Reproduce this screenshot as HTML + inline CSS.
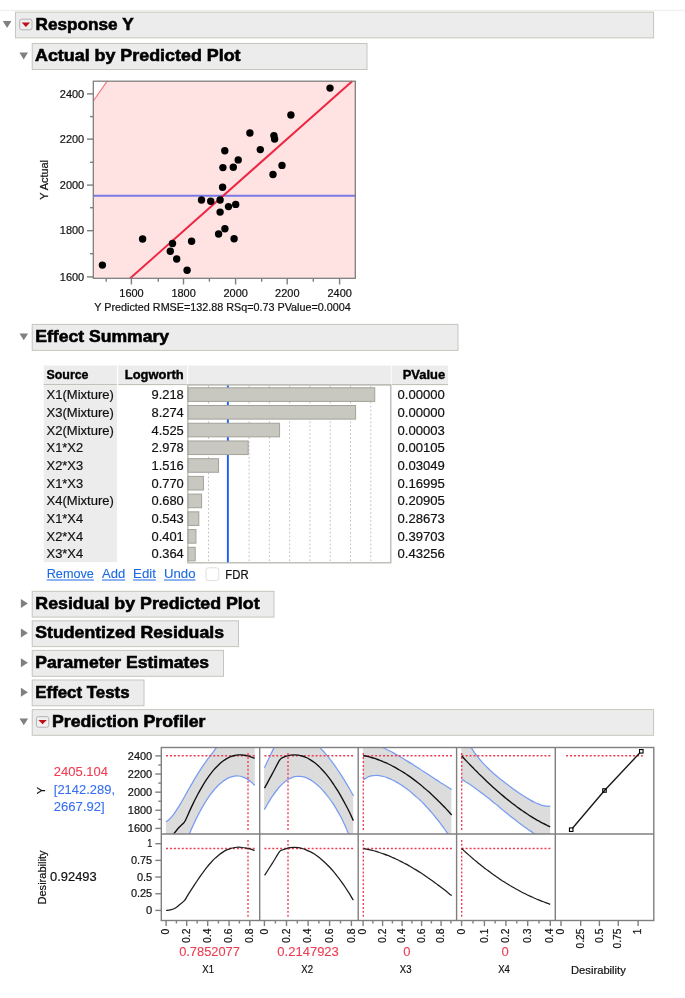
<!DOCTYPE html>
<html lang="en"><head><meta charset="utf-8"><title>Response Y</title>
<style>html,body{margin:0;padding:0;background:#fff}body{width:685px;height:998px;overflow:hidden}svg{display:block;font-family:'Liberation Sans', sans-serif}</style>
</head><body>
<svg width="685" height="998" viewBox="0 0 685 998">
<rect width="685" height="998" fill="#fff"/>
<line x1="0" y1="10.4" x2="685" y2="10.4" stroke="#f0f0f0" stroke-width="1.2"/>
<rect x="15.5" y="12.1" width="638.1" height="25.8" fill="#ececec" stroke="#c6c6be" stroke-width="1"/>
<text x="35.6" y="29.7" font-size="17" font-weight="bold" fill="#000" stroke="#000" stroke-width="0.6" textLength="98" lengthAdjust="spacingAndGlyphs">Response Y</text>
<path d="M2.8 21.1h8.6l-4.3 6.8z" fill="#808080"/>
<rect x="19.7" y="19.2" width="12.3" height="10.6" rx="2" fill="#efefef" stroke="#b2b2b2" stroke-width="1"/>
<path d="M21.70 22.50h8.4l-4.2 4.4z" fill="#bc1019"/>
<rect x="32.2" y="43.5" width="334.8" height="26.0" fill="#ececec" stroke="#c6c6be" stroke-width="1"/>
<text x="35" y="61.1" font-size="17" font-weight="bold" fill="#000" stroke="#000" stroke-width="0.6" textLength="205.5" lengthAdjust="spacingAndGlyphs">Actual by Predicted Plot</text>
<path d="M19.4 52.6h8.6l-4.3 6.8z" fill="#808080"/>
<rect x="32.2" y="324.4" width="425.8" height="26.0" fill="#ececec" stroke="#c6c6be" stroke-width="1"/>
<text x="35.3" y="342.0" font-size="17" font-weight="bold" fill="#000" stroke="#000" stroke-width="0.6" textLength="133.7" lengthAdjust="spacingAndGlyphs">Effect Summary</text>
<path d="M19.5 333.5h8.6l-4.3 6.8z" fill="#808080"/>
<rect x="32.2" y="591.3" width="241.8" height="25.8" fill="#ececec" stroke="#c6c6be" stroke-width="1"/>
<text x="35.3" y="608.9" font-size="17" font-weight="bold" fill="#000" stroke="#000" stroke-width="0.6" textLength="224.3" lengthAdjust="spacingAndGlyphs">Residual by Predicted Plot</text>
<path d="M20.9 599.1v9l7-4.5z" fill="#808080"/>
<rect x="32.2" y="620.8" width="206.3" height="25.8" fill="#ececec" stroke="#c6c6be" stroke-width="1"/>
<text x="35.3" y="638.4" font-size="17" font-weight="bold" fill="#000" stroke="#000" stroke-width="0.6" textLength="188.7" lengthAdjust="spacingAndGlyphs">Studentized Residuals</text>
<path d="M20.9 628.6v9l7-4.5z" fill="#808080"/>
<rect x="32.2" y="650.4" width="191.3" height="25.9" fill="#ececec" stroke="#c6c6be" stroke-width="1"/>
<text x="35.3" y="668.0" font-size="17" font-weight="bold" fill="#000" stroke="#000" stroke-width="0.6" textLength="173.7" lengthAdjust="spacingAndGlyphs">Parameter Estimates</text>
<path d="M20.9 658.25v9l7-4.5z" fill="#808080"/>
<rect x="32.2" y="680" width="111.8" height="25.8" fill="#ececec" stroke="#c6c6be" stroke-width="1"/>
<text x="35.3" y="697.6" font-size="17" font-weight="bold" fill="#000" stroke="#000" stroke-width="0.6" textLength="94.2" lengthAdjust="spacingAndGlyphs">Effect Tests</text>
<path d="M20.9 687.8v9l7-4.5z" fill="#808080"/>
<rect x="32.2" y="709.6" width="621.4" height="25.7" fill="#ececec" stroke="#c6c6be" stroke-width="1"/>
<text x="52" y="727.2" font-size="17" font-weight="bold" fill="#000" stroke="#000" stroke-width="0.6" textLength="153.5" lengthAdjust="spacingAndGlyphs">Prediction Profiler</text>
<path d="M19.5 718.55h8.6l-4.3 6.8z" fill="#808080"/>
<rect x="36.4" y="716.65" width="12.3" height="10.6" rx="2" fill="#efefef" stroke="#b2b2b2" stroke-width="1"/>
<path d="M38.40 719.95h8.4l-4.2 4.4z" fill="#bc1019"/>
<g>
<rect x="93.3" y="81.2" width="262.0" height="197.1" fill="#fff"/>
<path d="M93.3 101 L107.2 81.2 H355.3 V278.3 H93.3 Z" fill="#ffe2e2"/>
<path d="M93.3 101 L107.2 81.2" stroke="#f07a86" stroke-width="1.2" fill="none"/>
<line x1="93.3" y1="195.8" x2="355.3" y2="195.8" stroke="#7878e6" stroke-width="2"/>
<line x1="130.2" y1="278.3" x2="352.2" y2="81.2" stroke="#ee2440" stroke-width="1.9"/>
<circle cx="102.4" cy="265.1" r="3.7" fill="#000"/>
<circle cx="142.6" cy="239.0" r="3.7" fill="#000"/>
<circle cx="172.5" cy="243.5" r="3.7" fill="#000"/>
<circle cx="170.3" cy="251.2" r="3.7" fill="#000"/>
<circle cx="176.7" cy="259.0" r="3.7" fill="#000"/>
<circle cx="187.1" cy="270.2" r="3.7" fill="#000"/>
<circle cx="191.6" cy="241.2" r="3.7" fill="#000"/>
<circle cx="222.6" cy="187.3" r="3.7" fill="#000"/>
<circle cx="201.5" cy="200" r="3.7" fill="#000"/>
<circle cx="210.7" cy="201.3" r="3.7" fill="#000"/>
<circle cx="220.1" cy="200" r="3.7" fill="#000"/>
<circle cx="228.5" cy="206.6" r="3.7" fill="#000"/>
<circle cx="235.7" cy="204.4" r="3.7" fill="#000"/>
<circle cx="220.1" cy="212.1" r="3.7" fill="#000"/>
<circle cx="224.9" cy="228.8" r="3.7" fill="#000"/>
<circle cx="218.6" cy="234" r="3.7" fill="#000"/>
<circle cx="234.1" cy="238.7" r="3.7" fill="#000"/>
<circle cx="290.9" cy="115" r="3.7" fill="#000"/>
<circle cx="249.9" cy="133" r="3.7" fill="#000"/>
<circle cx="273.9" cy="135.6" r="3.7" fill="#000"/>
<circle cx="274.6" cy="139" r="3.7" fill="#000"/>
<circle cx="260.3" cy="149.6" r="3.7" fill="#000"/>
<circle cx="224.8" cy="150.8" r="3.7" fill="#000"/>
<circle cx="238.2" cy="159.9" r="3.7" fill="#000"/>
<circle cx="222.9" cy="167.6" r="3.7" fill="#000"/>
<circle cx="233.3" cy="167.2" r="3.7" fill="#000"/>
<circle cx="282" cy="165.4" r="3.7" fill="#000"/>
<circle cx="273" cy="174.5" r="3.7" fill="#000"/>
<circle cx="330" cy="88.1" r="3.7" fill="#000"/>
<rect x="93.3" y="81.2" width="262.0" height="197.1" fill="none" stroke="#7a7a7a" stroke-width="1.25"/>
<line x1="87.0" y1="276.9" x2="93.3" y2="276.9" stroke="#7f7f7f" stroke-width="1.4"/>
<text x="84.2" y="280.5" font-size="11" fill="#111" stroke="#111" stroke-width="0.2" text-anchor="end" textLength="24.4" lengthAdjust="spacingAndGlyphs">1600</text>
<line x1="90.0" y1="253.7" x2="93.3" y2="253.7" stroke="#7f7f7f" stroke-width="1.4"/>
<line x1="87.0" y1="230.7" x2="93.3" y2="230.7" stroke="#7f7f7f" stroke-width="1.4"/>
<text x="84.2" y="234.3" font-size="11" fill="#111" stroke="#111" stroke-width="0.2" text-anchor="end" textLength="24.4" lengthAdjust="spacingAndGlyphs">1800</text>
<line x1="90.0" y1="207.7" x2="93.3" y2="207.7" stroke="#7f7f7f" stroke-width="1.4"/>
<line x1="87.0" y1="185.1" x2="93.3" y2="185.1" stroke="#7f7f7f" stroke-width="1.4"/>
<text x="84.2" y="188.7" font-size="11" fill="#111" stroke="#111" stroke-width="0.2" text-anchor="end" textLength="24.4" lengthAdjust="spacingAndGlyphs">2000</text>
<line x1="90.0" y1="162.3" x2="93.3" y2="162.3" stroke="#7f7f7f" stroke-width="1.4"/>
<line x1="87.0" y1="139.1" x2="93.3" y2="139.1" stroke="#7f7f7f" stroke-width="1.4"/>
<text x="84.2" y="142.7" font-size="11" fill="#111" stroke="#111" stroke-width="0.2" text-anchor="end" textLength="24.4" lengthAdjust="spacingAndGlyphs">2200</text>
<line x1="90.0" y1="116.6" x2="93.3" y2="116.6" stroke="#7f7f7f" stroke-width="1.4"/>
<line x1="87.0" y1="93.9" x2="93.3" y2="93.9" stroke="#7f7f7f" stroke-width="1.4"/>
<text x="84.2" y="97.5" font-size="11" fill="#111" stroke="#111" stroke-width="0.2" text-anchor="end" textLength="24.4" lengthAdjust="spacingAndGlyphs">2400</text>
<line x1="106.2" y1="278.3" x2="106.2" y2="281.7" stroke="#7f7f7f" stroke-width="1.4"/>
<line x1="131.4" y1="278.3" x2="131.4" y2="284.5" stroke="#7f7f7f" stroke-width="1.4"/>
<text x="131.5" y="296.6" font-size="11" fill="#111" stroke="#111" stroke-width="0.2" text-anchor="middle" textLength="24.4" lengthAdjust="spacingAndGlyphs">1600</text>
<line x1="158.3" y1="278.3" x2="158.3" y2="281.7" stroke="#7f7f7f" stroke-width="1.4"/>
<line x1="183.5" y1="278.3" x2="183.5" y2="284.5" stroke="#7f7f7f" stroke-width="1.4"/>
<text x="183.6" y="296.6" font-size="11" fill="#111" stroke="#111" stroke-width="0.2" text-anchor="middle" textLength="24.4" lengthAdjust="spacingAndGlyphs">1800</text>
<line x1="209.4" y1="278.3" x2="209.4" y2="281.7" stroke="#7f7f7f" stroke-width="1.4"/>
<line x1="235.6" y1="278.3" x2="235.6" y2="284.5" stroke="#7f7f7f" stroke-width="1.4"/>
<text x="235.7" y="296.6" font-size="11" fill="#111" stroke="#111" stroke-width="0.2" text-anchor="middle" textLength="24.4" lengthAdjust="spacingAndGlyphs">2000</text>
<line x1="261.7" y1="278.3" x2="261.7" y2="281.7" stroke="#7f7f7f" stroke-width="1.4"/>
<line x1="287.2" y1="278.3" x2="287.2" y2="284.5" stroke="#7f7f7f" stroke-width="1.4"/>
<text x="287.3" y="296.6" font-size="11" fill="#111" stroke="#111" stroke-width="0.2" text-anchor="middle" textLength="24.4" lengthAdjust="spacingAndGlyphs">2200</text>
<line x1="313.3" y1="278.3" x2="313.3" y2="281.7" stroke="#7f7f7f" stroke-width="1.4"/>
<line x1="339.6" y1="278.3" x2="339.6" y2="284.5" stroke="#7f7f7f" stroke-width="1.4"/>
<text x="339.7" y="296.6" font-size="11" fill="#111" stroke="#111" stroke-width="0.2" text-anchor="middle" textLength="24.4" lengthAdjust="spacingAndGlyphs">2400</text>
<text x="48.1" y="179.8" font-size="11" fill="#111" stroke="#111" stroke-width="0.2" text-anchor="middle" textLength="39.7" lengthAdjust="spacingAndGlyphs" transform="rotate(-90 48.1 179.8)">Y Actual</text>
<text x="94.3" y="311.2" font-size="11" fill="#111" stroke="#111" stroke-width="0.2" textLength="256.5" lengthAdjust="spacingAndGlyphs">Y Predicted RMSE=132.88 RSq=0.73 PValue=0.0004</text>
</g>
<g>
<rect x="43.7" y="365.5" width="73.2" height="18.6" fill="#ececec"/>
<rect x="43.7" y="384" width="73.2" height="1.1" fill="#c2c2ba"/>
<rect x="118.2" y="365.5" width="69.0" height="18.6" fill="#ececec"/>
<rect x="118.2" y="384" width="69.0" height="1.1" fill="#c2c2ba"/>
<rect x="188.3" y="365.5" width="202.5" height="18.6" fill="#ececec"/>
<rect x="188.3" y="384" width="202.5" height="1.1" fill="#c2c2ba"/>
<rect x="391.7" y="365.5" width="56.3" height="18.6" fill="#ececec"/>
<rect x="391.7" y="384" width="56.3" height="1.1" fill="#c2c2ba"/>
<rect x="43.7" y="385.1" width="73.2" height="177" fill="#ececec"/>
<text x="46.5" y="379" font-size="13" font-weight="bold" fill="#000" stroke="#000" stroke-width="0.4" textLength="42" lengthAdjust="spacingAndGlyphs">Source</text>
<text x="124.8" y="379" font-size="13" font-weight="bold" fill="#000" stroke="#000" stroke-width="0.4" textLength="59" lengthAdjust="spacingAndGlyphs">Logworth</text>
<text x="402.7" y="379" font-size="13" font-weight="bold" fill="#000" stroke="#000" stroke-width="0.4" textLength="42.4" lengthAdjust="spacingAndGlyphs">PValue</text>
<rect x="187.8" y="385" width="203.0" height="177.8" fill="#fff" stroke="#bcbcb4" stroke-width="1.4"/>
<line x1="208.53" y1="386" x2="208.53" y2="562" stroke="#c0c0c0" stroke-width="1" stroke-dasharray="1.7 2.24"/>
<line x1="249.09" y1="386" x2="249.09" y2="562" stroke="#c0c0c0" stroke-width="1" stroke-dasharray="1.7 2.24"/>
<line x1="269.37" y1="386" x2="269.37" y2="562" stroke="#c0c0c0" stroke-width="1" stroke-dasharray="1.7 2.24"/>
<line x1="289.65" y1="386" x2="289.65" y2="562" stroke="#c0c0c0" stroke-width="1" stroke-dasharray="1.7 2.24"/>
<line x1="309.93" y1="386" x2="309.93" y2="562" stroke="#c0c0c0" stroke-width="1" stroke-dasharray="1.7 2.24"/>
<line x1="330.21" y1="386" x2="330.21" y2="562" stroke="#c0c0c0" stroke-width="1" stroke-dasharray="1.7 2.24"/>
<line x1="350.49" y1="386" x2="350.49" y2="562" stroke="#c0c0c0" stroke-width="1" stroke-dasharray="1.7 2.24"/>
<line x1="370.77" y1="386" x2="370.77" y2="562" stroke="#c0c0c0" stroke-width="1" stroke-dasharray="1.7 2.24"/>
<line x1="227.86" y1="385.5" x2="227.86" y2="562.3" stroke="#1a5cf4" stroke-width="1.9"/>
<text x="46.6" y="399.1" font-size="13" fill="#111" stroke="#111" stroke-width="0.2" textLength="67.3" lengthAdjust="spacingAndGlyphs">X1(Mixture)</text>
<text x="183.8" y="399.1" font-size="13" fill="#111" stroke="#111" stroke-width="0.2" text-anchor="end" textLength="32.3" lengthAdjust="spacingAndGlyphs">9.218</text>
<text x="444.8" y="399.1" font-size="13" fill="#111" stroke="#111" stroke-width="0.2" text-anchor="end" textLength="47.3" lengthAdjust="spacingAndGlyphs">0.00000</text>
<rect x="188.1" y="387.8" width="186.64" height="13.6" fill="#c8c8c0" stroke="#a2a29a" stroke-width="1"/>
<text x="46.6" y="416.8" font-size="13" fill="#111" stroke="#111" stroke-width="0.2" textLength="67.3" lengthAdjust="spacingAndGlyphs">X3(Mixture)</text>
<text x="183.8" y="416.8" font-size="13" fill="#111" stroke="#111" stroke-width="0.2" text-anchor="end" textLength="32.3" lengthAdjust="spacingAndGlyphs">8.274</text>
<text x="444.8" y="416.8" font-size="13" fill="#111" stroke="#111" stroke-width="0.2" text-anchor="end" textLength="47.3" lengthAdjust="spacingAndGlyphs">0.00000</text>
<rect x="188.1" y="405.52" width="167.50" height="13.6" fill="#c8c8c0" stroke="#a2a29a" stroke-width="1"/>
<text x="46.6" y="434.5" font-size="13" fill="#111" stroke="#111" stroke-width="0.2" textLength="67.3" lengthAdjust="spacingAndGlyphs">X2(Mixture)</text>
<text x="183.8" y="434.5" font-size="13" fill="#111" stroke="#111" stroke-width="0.2" text-anchor="end" textLength="32.3" lengthAdjust="spacingAndGlyphs">4.525</text>
<text x="444.8" y="434.5" font-size="13" fill="#111" stroke="#111" stroke-width="0.2" text-anchor="end" textLength="47.3" lengthAdjust="spacingAndGlyphs">0.00003</text>
<rect x="188.1" y="423.24" width="91.47" height="13.6" fill="#c8c8c0" stroke="#a2a29a" stroke-width="1"/>
<text x="46.6" y="452.2" font-size="13" fill="#111" stroke="#111" stroke-width="0.2" textLength="36.5" lengthAdjust="spacingAndGlyphs">X1*X2</text>
<text x="183.8" y="452.2" font-size="13" fill="#111" stroke="#111" stroke-width="0.2" text-anchor="end" textLength="32.3" lengthAdjust="spacingAndGlyphs">2.978</text>
<text x="444.8" y="452.2" font-size="13" fill="#111" stroke="#111" stroke-width="0.2" text-anchor="end" textLength="47.3" lengthAdjust="spacingAndGlyphs">0.00105</text>
<rect x="188.1" y="440.96" width="60.09" height="13.6" fill="#c8c8c0" stroke="#a2a29a" stroke-width="1"/>
<text x="46.6" y="469.9" font-size="13" fill="#111" stroke="#111" stroke-width="0.2" textLength="36.5" lengthAdjust="spacingAndGlyphs">X2*X3</text>
<text x="183.8" y="469.9" font-size="13" fill="#111" stroke="#111" stroke-width="0.2" text-anchor="end" textLength="32.3" lengthAdjust="spacingAndGlyphs">1.516</text>
<text x="444.8" y="469.9" font-size="13" fill="#111" stroke="#111" stroke-width="0.2" text-anchor="end" textLength="47.3" lengthAdjust="spacingAndGlyphs">0.03049</text>
<rect x="188.1" y="458.68" width="30.44" height="13.6" fill="#c8c8c0" stroke="#a2a29a" stroke-width="1"/>
<text x="46.6" y="487.6" font-size="13" fill="#111" stroke="#111" stroke-width="0.2" textLength="36.5" lengthAdjust="spacingAndGlyphs">X1*X3</text>
<text x="183.8" y="487.6" font-size="13" fill="#111" stroke="#111" stroke-width="0.2" text-anchor="end" textLength="32.3" lengthAdjust="spacingAndGlyphs">0.770</text>
<text x="444.8" y="487.6" font-size="13" fill="#111" stroke="#111" stroke-width="0.2" text-anchor="end" textLength="47.3" lengthAdjust="spacingAndGlyphs">0.16995</text>
<rect x="188.1" y="476.4" width="15.32" height="13.6" fill="#c8c8c0" stroke="#a2a29a" stroke-width="1"/>
<text x="46.6" y="505.3" font-size="13" fill="#111" stroke="#111" stroke-width="0.2" textLength="67.3" lengthAdjust="spacingAndGlyphs">X4(Mixture)</text>
<text x="183.8" y="505.3" font-size="13" fill="#111" stroke="#111" stroke-width="0.2" text-anchor="end" textLength="32.3" lengthAdjust="spacingAndGlyphs">0.680</text>
<text x="444.8" y="505.3" font-size="13" fill="#111" stroke="#111" stroke-width="0.2" text-anchor="end" textLength="47.3" lengthAdjust="spacingAndGlyphs">0.20905</text>
<rect x="188.1" y="494.12" width="13.49" height="13.6" fill="#c8c8c0" stroke="#a2a29a" stroke-width="1"/>
<text x="46.6" y="523.0" font-size="13" fill="#111" stroke="#111" stroke-width="0.2" textLength="36.5" lengthAdjust="spacingAndGlyphs">X1*X4</text>
<text x="183.8" y="523.0" font-size="13" fill="#111" stroke="#111" stroke-width="0.2" text-anchor="end" textLength="32.3" lengthAdjust="spacingAndGlyphs">0.543</text>
<text x="444.8" y="523.0" font-size="13" fill="#111" stroke="#111" stroke-width="0.2" text-anchor="end" textLength="47.3" lengthAdjust="spacingAndGlyphs">0.28673</text>
<rect x="188.1" y="511.84" width="10.71" height="13.6" fill="#c8c8c0" stroke="#a2a29a" stroke-width="1"/>
<text x="46.6" y="540.7" font-size="13" fill="#111" stroke="#111" stroke-width="0.2" textLength="36.5" lengthAdjust="spacingAndGlyphs">X2*X4</text>
<text x="183.8" y="540.7" font-size="13" fill="#111" stroke="#111" stroke-width="0.2" text-anchor="end" textLength="32.3" lengthAdjust="spacingAndGlyphs">0.401</text>
<text x="444.8" y="540.7" font-size="13" fill="#111" stroke="#111" stroke-width="0.2" text-anchor="end" textLength="47.3" lengthAdjust="spacingAndGlyphs">0.39703</text>
<rect x="188.1" y="529.56" width="7.83" height="13.6" fill="#c8c8c0" stroke="#a2a29a" stroke-width="1"/>
<text x="46.6" y="558.4" font-size="13" fill="#111" stroke="#111" stroke-width="0.2" textLength="36.5" lengthAdjust="spacingAndGlyphs">X3*X4</text>
<text x="183.8" y="558.4" font-size="13" fill="#111" stroke="#111" stroke-width="0.2" text-anchor="end" textLength="32.3" lengthAdjust="spacingAndGlyphs">0.364</text>
<text x="444.8" y="558.4" font-size="13" fill="#111" stroke="#111" stroke-width="0.2" text-anchor="end" textLength="47.3" lengthAdjust="spacingAndGlyphs">0.43256</text>
<rect x="188.1" y="547.28" width="7.08" height="13.6" fill="#c8c8c0" stroke="#a2a29a" stroke-width="1"/>
<text x="46.7" y="577.6" font-size="13" fill="#1c6ae4" stroke="#1c6ae4" stroke-width="0.1" textLength="47.2" lengthAdjust="spacingAndGlyphs">Remove</text>
<line x1="46.7" y1="580" x2="93.9" y2="580" stroke="#1c6ae4" stroke-width="1"/>
<text x="102" y="577.6" font-size="13" fill="#1c6ae4" stroke="#1c6ae4" stroke-width="0.1" textLength="23.2" lengthAdjust="spacingAndGlyphs">Add</text>
<line x1="102" y1="580" x2="125.2" y2="580" stroke="#1c6ae4" stroke-width="1"/>
<text x="133.1" y="577.6" font-size="13" fill="#1c6ae4" stroke="#1c6ae4" stroke-width="0.1" textLength="22.8" lengthAdjust="spacingAndGlyphs">Edit</text>
<line x1="133.1" y1="580" x2="155.9" y2="580" stroke="#1c6ae4" stroke-width="1"/>
<text x="164" y="577.6" font-size="13" fill="#1c6ae4" stroke="#1c6ae4" stroke-width="0.1" textLength="31.5" lengthAdjust="spacingAndGlyphs">Undo</text>
<line x1="164" y1="580" x2="195.5" y2="580" stroke="#1c6ae4" stroke-width="1"/>
<rect x="206" y="567.8" width="12.8" height="12.8" rx="2.5" fill="#fff" stroke="#dedede" stroke-width="1"/>
<text x="225.3" y="579.2" font-size="12.5" fill="#111" stroke="#111" stroke-width="0.2" textLength="23.3" lengthAdjust="spacingAndGlyphs">FDR</text>
</g>
<g>
<clipPath id="c1"><rect x="161.3" y="747.5" width="492.5" height="86.5"/></clipPath>
<g clip-path="url(#c1)">
<clipPath id="b1"><rect x="165.9" y="747.5" width="88.9" height="86.5"/></clipPath>
<path clip-path="url(#b1)" d="M164.0 821.8 C164.3 821.8 165.0 822.3 166.0 821.8 C167.0 821.3 168.6 820.1 169.9 818.8 C171.2 817.5 172.5 815.8 173.8 814.1 C175.2 812.3 176.5 810.3 177.8 808.2 C179.1 806.2 180.4 803.9 181.7 801.7 C183.0 799.4 184.3 797.1 185.6 794.7 C186.9 792.4 188.2 790.1 189.5 787.8 C190.8 785.5 192.2 783.2 193.5 780.9 C194.8 778.7 196.1 776.5 197.4 774.4 C198.7 772.3 200.0 770.3 201.3 768.3 C202.6 766.3 203.9 764.4 205.2 762.6 C206.5 760.7 207.8 759.0 209.2 757.2 C210.5 755.5 211.8 753.8 213.1 752.1 C214.4 750.4 214.8 749.5 217.0 747.0 C219.2 744.5 222.2 739.8 226.0 737.0 C229.8 734.2 235.2 731.2 240.0 730.0 C244.8 728.8 251.9 730.0 254.7 730.0 C257.5 730.0 256.4 730.0 256.7 730.0 L256.7 785.4 C256.4 785.4 255.7 786.1 254.7 785.4 C253.7 784.8 252.0 782.6 250.6 781.5 C249.3 780.3 247.9 779.4 246.6 778.6 C245.2 777.8 243.8 777.2 242.5 776.8 C241.1 776.3 239.8 776.1 238.4 776.0 C237.1 775.9 235.7 775.9 234.4 776.1 C233.0 776.3 231.6 776.7 230.3 777.2 C228.9 777.7 227.6 778.3 226.2 779.1 C224.9 779.9 223.5 780.8 222.2 781.9 C220.8 783.0 219.4 784.2 218.1 785.5 C216.7 786.9 215.4 788.4 214.0 790.0 C212.7 791.6 211.3 793.4 209.9 795.2 C208.6 797.1 207.2 799.1 205.9 801.3 C204.5 803.4 203.2 805.7 201.8 808.1 C200.5 810.5 199.1 813.1 197.7 815.7 C196.4 818.4 195.0 821.2 193.7 824.2 C192.3 827.1 192.2 827.1 189.6 833.5 C187.0 839.8 181.9 851.7 178.0 862.0 C174.1 872.3 168.3 889.5 166.0 895.0 C163.7 900.5 164.3 895.0 164.0 895.0Z" fill="#dcdcdc"/>
<path d="M166.0 821.8 C166.7 821.3 168.6 820.1 169.9 818.8 C171.2 817.5 172.5 815.8 173.8 814.1 C175.2 812.3 176.5 810.3 177.8 808.2 C179.1 806.2 180.4 803.9 181.7 801.7 C183.0 799.4 184.3 797.1 185.6 794.7 C186.9 792.4 188.2 790.1 189.5 787.8 C190.8 785.5 192.2 783.2 193.5 780.9 C194.8 778.7 196.1 776.5 197.4 774.4 C198.7 772.3 200.0 770.3 201.3 768.3 C202.6 766.3 203.9 764.4 205.2 762.6 C206.5 760.7 207.8 759.0 209.2 757.2 C210.5 755.5 211.8 753.8 213.1 752.1 C214.4 750.4 214.8 749.5 217.0 747.0 C219.2 744.5 222.2 739.8 226.0 737.0 C229.8 734.2 235.2 731.2 240.0 730.0 C244.8 728.8 252.2 730.0 254.7 730.0" fill="none" stroke="#789cf2" stroke-width="1.25"/>
<path d="M166.0 895.0 C168.0 889.5 174.1 872.3 178.0 862.0 C181.9 851.7 187.0 839.8 189.6 833.5 C192.2 827.1 192.3 827.1 193.7 824.2 C195.0 821.2 196.4 818.4 197.7 815.7 C199.1 813.1 200.5 810.5 201.8 808.1 C203.2 805.7 204.5 803.4 205.9 801.3 C207.2 799.1 208.6 797.1 209.9 795.2 C211.3 793.4 212.7 791.6 214.0 790.0 C215.4 788.4 216.7 786.9 218.1 785.5 C219.4 784.2 220.8 783.0 222.2 781.9 C223.5 780.8 224.9 779.9 226.2 779.1 C227.6 778.3 228.9 777.7 230.3 777.2 C231.6 776.7 233.0 776.3 234.4 776.1 C235.7 775.9 237.1 775.9 238.4 776.0 C239.8 776.1 241.1 776.3 242.5 776.8 C243.8 777.2 245.2 777.8 246.6 778.6 C247.9 779.4 249.3 780.3 250.6 781.5 C252.0 782.6 254.0 784.8 254.7 785.4" fill="none" stroke="#789cf2" stroke-width="1.25"/>
<clipPath id="b2"><rect x="264.1" y="747.5" width="89.1" height="86.5"/></clipPath>
<path clip-path="url(#b2)" d="M262.4 767.7 C262.7 767.7 263.2 769.4 264.4 767.7 C265.5 766.0 267.7 760.9 269.3 757.5 C270.9 754.1 272.1 751.5 274.2 747.4 C276.3 743.3 278.2 736.7 282.0 733.0 C285.8 729.3 292.2 725.0 297.0 725.0 C301.8 725.0 307.2 729.2 311.0 733.0 C314.8 736.8 317.8 744.3 320.0 747.5 C322.2 750.7 322.8 750.5 324.2 752.1 C325.6 753.7 327.0 755.4 328.4 757.1 C329.8 758.9 331.2 760.7 332.6 762.6 C334.0 764.5 335.4 766.4 336.8 768.5 C338.1 770.5 339.5 772.6 340.9 774.7 C342.3 776.9 343.7 779.1 345.1 781.4 C346.5 783.7 347.9 786.1 349.3 788.5 C350.7 791.0 352.5 794.8 353.5 796.0 C354.5 797.3 355.2 796.0 355.5 796.0 L355.5 843.0 C355.2 843.0 354.6 844.5 353.5 843.0 C352.4 841.5 350.3 837.3 348.8 834.3 C347.3 831.3 346.1 827.9 344.8 825.0 C343.4 822.1 342.1 819.4 340.8 816.8 C339.4 814.2 338.1 811.9 336.7 809.6 C335.4 807.3 334.1 805.2 332.7 803.2 C331.4 801.2 330.0 799.3 328.7 797.5 C327.4 795.7 326.0 794.1 324.7 792.5 C323.4 790.9 322.0 789.5 320.7 788.1 C319.3 786.8 318.0 785.5 316.6 784.4 C315.3 783.2 314.0 782.2 312.6 781.3 C311.3 780.3 310.0 779.5 308.6 778.9 C307.3 778.2 305.9 777.6 304.6 777.2 C303.2 776.8 301.9 776.5 300.6 776.4 C299.2 776.2 297.9 776.2 296.6 776.4 C295.2 776.5 293.9 776.8 292.5 777.3 C291.2 777.8 289.8 778.4 288.5 779.2 C287.2 779.9 285.8 780.9 284.5 782.0 C283.2 783.1 281.8 784.4 280.5 785.8 C279.1 787.2 277.8 788.8 276.5 790.5 C275.1 792.3 273.8 794.2 272.4 796.2 C271.1 798.2 269.8 800.3 268.4 802.6 C267.1 804.8 265.4 808.4 264.4 809.6 C263.4 810.8 262.7 809.6 262.4 809.6Z" fill="#dcdcdc"/>
<path d="M264.4 767.7 C265.2 766.0 267.7 760.9 269.3 757.5 C270.9 754.1 272.1 751.5 274.2 747.4 C276.3 743.3 278.2 736.7 282.0 733.0 C285.8 729.3 292.2 725.0 297.0 725.0 C301.8 725.0 307.2 729.2 311.0 733.0 C314.8 736.8 317.8 744.3 320.0 747.5 C322.2 750.7 322.8 750.5 324.2 752.1 C325.6 753.7 327.0 755.4 328.4 757.1 C329.8 758.9 331.2 760.7 332.6 762.6 C334.0 764.5 335.4 766.4 336.8 768.5 C338.1 770.5 339.5 772.6 340.9 774.7 C342.3 776.9 343.7 779.1 345.1 781.4 C346.5 783.7 347.9 786.1 349.3 788.5 C350.7 791.0 352.8 794.8 353.5 796.0" fill="none" stroke="#789cf2" stroke-width="1.25"/>
<path d="M264.4 809.6 C265.1 808.4 267.1 804.8 268.4 802.6 C269.8 800.3 271.1 798.2 272.4 796.2 C273.8 794.2 275.1 792.3 276.5 790.5 C277.8 788.8 279.1 787.2 280.5 785.8 C281.8 784.4 283.2 783.1 284.5 782.0 C285.8 780.9 287.2 779.9 288.5 779.2 C289.8 778.4 291.2 777.8 292.5 777.3 C293.9 776.8 295.2 776.5 296.6 776.4 C297.9 776.2 299.2 776.2 300.6 776.4 C301.9 776.5 303.2 776.8 304.6 777.2 C305.9 777.6 307.3 778.2 308.6 778.9 C310.0 779.5 311.3 780.3 312.6 781.3 C314.0 782.2 315.3 783.2 316.6 784.4 C318.0 785.5 319.3 786.8 320.7 788.1 C322.0 789.5 323.4 790.9 324.7 792.5 C326.0 794.1 327.4 795.7 328.7 797.5 C330.0 799.3 331.4 801.2 332.7 803.2 C334.1 805.2 335.4 807.3 336.7 809.6 C338.1 811.9 339.4 814.2 340.8 816.8 C342.1 819.4 343.4 822.1 344.8 825.0 C346.1 827.9 347.3 831.3 348.8 834.3 C350.3 837.3 352.7 841.5 353.5 843.0" fill="none" stroke="#789cf2" stroke-width="1.25"/>
<clipPath id="b3"><rect x="363.0" y="747.5" width="88.4" height="86.5"/></clipPath>
<path clip-path="url(#b3)" d="M361.3 736.0 C361.6 736.0 361.4 735.1 363.3 736.0 C365.2 736.9 369.7 739.5 373.0 741.5 C376.3 743.5 380.9 746.4 383.3 747.8 C385.7 749.2 386.0 749.1 387.3 749.7 C388.7 750.4 390.0 751.1 391.4 751.8 C392.7 752.5 394.0 753.3 395.4 754.0 C396.7 754.7 398.0 755.5 399.4 756.3 C400.7 757.1 402.1 757.9 403.4 758.7 C404.8 759.5 406.1 760.3 407.4 761.1 C408.8 762.0 410.1 762.8 411.5 763.6 C412.8 764.5 414.1 765.3 415.5 766.2 C416.8 767.1 418.2 767.9 419.5 768.8 C420.9 769.7 422.2 770.6 423.5 771.5 C424.9 772.3 426.2 773.2 427.6 774.1 C428.9 775.0 430.2 775.9 431.6 776.7 C432.9 777.6 434.3 778.5 435.6 779.4 C437.0 780.2 438.3 781.1 439.6 782.0 C441.0 782.8 442.3 783.7 443.6 784.5 C445.0 785.3 446.3 786.2 447.7 787.0 C449.0 787.8 450.7 789.0 451.7 789.4 C452.7 789.8 453.4 789.4 453.7 789.4 L453.7 839.0 C453.4 839.0 452.7 839.9 451.7 839.0 C450.7 838.1 449.1 835.6 447.8 833.8 C446.5 831.9 445.1 829.9 443.8 828.0 C442.4 826.2 441.1 824.4 439.8 822.6 C438.4 820.8 437.1 819.1 435.7 817.5 C434.4 815.8 433.1 814.2 431.7 812.6 C430.4 811.0 429.0 809.5 427.7 808.1 C426.4 806.6 425.0 805.2 423.7 803.8 C422.4 802.4 421.0 801.1 419.7 799.8 C418.3 798.6 417.0 797.3 415.6 796.2 C414.3 795.0 413.0 793.8 411.6 792.7 C410.3 791.6 409.0 790.6 407.6 789.6 C406.3 788.5 404.9 787.6 403.6 786.6 C402.2 785.7 400.9 784.8 399.6 784.0 C398.2 783.1 396.9 782.3 395.6 781.6 C394.2 780.9 392.9 780.2 391.5 779.5 C390.2 778.9 388.8 778.3 387.5 777.8 C386.2 777.3 384.8 776.8 383.5 776.5 C382.2 776.1 380.8 775.8 379.5 775.6 C378.1 775.4 376.8 775.3 375.5 775.4 C374.1 775.4 372.8 775.6 371.4 775.9 C370.1 776.2 368.8 776.6 367.4 777.2 C366.1 777.9 364.4 779.3 363.4 779.7 C362.4 780.1 361.7 779.7 361.4 779.7Z" fill="#dcdcdc"/>
<path d="M363.3 736.0 C364.9 736.9 369.7 739.5 373.0 741.5 C376.3 743.5 380.9 746.4 383.3 747.8 C385.7 749.2 386.0 749.1 387.3 749.7 C388.7 750.4 390.0 751.1 391.4 751.8 C392.7 752.5 394.0 753.3 395.4 754.0 C396.7 754.7 398.0 755.5 399.4 756.3 C400.7 757.1 402.1 757.9 403.4 758.7 C404.8 759.5 406.1 760.3 407.4 761.1 C408.8 762.0 410.1 762.8 411.5 763.6 C412.8 764.5 414.1 765.3 415.5 766.2 C416.8 767.1 418.2 767.9 419.5 768.8 C420.9 769.7 422.2 770.6 423.5 771.5 C424.9 772.3 426.2 773.2 427.6 774.1 C428.9 775.0 430.2 775.9 431.6 776.7 C432.9 777.6 434.3 778.5 435.6 779.4 C437.0 780.2 438.3 781.1 439.6 782.0 C441.0 782.8 442.3 783.7 443.6 784.5 C445.0 785.3 446.3 786.2 447.7 787.0 C449.0 787.8 451.0 789.0 451.7 789.4" fill="none" stroke="#789cf2" stroke-width="1.25"/>
<path d="M363.4 779.7 C364.1 779.3 366.1 777.9 367.4 777.2 C368.8 776.6 370.1 776.2 371.4 775.9 C372.8 775.6 374.1 775.4 375.5 775.4 C376.8 775.3 378.1 775.4 379.5 775.6 C380.8 775.8 382.2 776.1 383.5 776.5 C384.8 776.8 386.2 777.3 387.5 777.8 C388.8 778.3 390.2 778.9 391.5 779.5 C392.9 780.2 394.2 780.9 395.6 781.6 C396.9 782.3 398.2 783.1 399.6 784.0 C400.9 784.8 402.2 785.7 403.6 786.6 C404.9 787.6 406.3 788.5 407.6 789.6 C409.0 790.6 410.3 791.6 411.6 792.7 C413.0 793.8 414.3 795.0 415.6 796.2 C417.0 797.3 418.3 798.6 419.7 799.8 C421.0 801.1 422.4 802.4 423.7 803.8 C425.0 805.2 426.4 806.6 427.7 808.1 C429.0 809.5 430.4 811.0 431.7 812.6 C433.1 814.2 434.4 815.8 435.7 817.5 C437.1 819.1 438.4 820.8 439.8 822.6 C441.1 824.4 442.4 826.2 443.8 828.0 C445.1 829.9 446.5 831.9 447.8 833.8 C449.1 835.6 451.1 838.1 451.7 839.0" fill="none" stroke="#789cf2" stroke-width="1.25"/>
<clipPath id="b4"><rect x="461.3" y="747.5" width="88.9" height="86.5"/></clipPath>
<path clip-path="url(#b4)" d="M459.6 733.0 C459.9 733.0 459.7 730.5 461.6 733.0 C463.5 735.5 468.9 744.3 471.2 747.7 C473.5 751.1 473.8 751.7 475.1 753.5 C476.5 755.3 477.8 757.0 479.1 758.6 C480.4 760.2 481.7 761.7 483.1 763.1 C484.4 764.6 485.7 765.9 487.0 767.3 C488.3 768.6 489.6 769.8 490.9 771.0 C492.3 772.3 493.6 773.4 494.9 774.6 C496.2 775.7 497.5 776.8 498.9 777.9 C500.2 779.0 501.5 780.0 502.8 781.0 C504.1 782.1 505.4 783.1 506.8 784.1 C508.1 785.1 509.4 786.1 510.7 787.0 C512.0 788.0 513.3 789.0 514.6 789.9 C516.0 790.8 517.3 791.8 518.6 792.7 C519.9 793.6 521.2 794.5 522.5 795.3 C523.9 796.2 525.2 797.0 526.5 797.8 C527.8 798.6 529.1 799.4 530.5 800.1 C531.8 800.9 533.1 801.6 534.4 802.2 C535.7 802.8 537.0 803.4 538.4 803.9 C539.7 804.5 541.0 804.9 542.3 805.3 C543.6 805.6 544.9 805.9 546.2 806.1 C547.6 806.3 549.2 806.2 550.2 806.3 C551.2 806.3 551.9 806.3 552.2 806.3 L552.2 842.0 C551.9 842.0 551.9 842.6 550.2 842.0 C548.5 841.4 544.8 840.0 542.0 838.5 C539.2 837.0 535.5 834.3 533.4 833.0 C531.3 831.6 530.7 831.2 529.4 830.4 C528.1 829.5 526.8 828.6 525.4 827.6 C524.1 826.7 522.8 825.7 521.5 824.7 C520.1 823.7 518.8 822.7 517.5 821.7 C516.1 820.7 514.8 819.7 513.5 818.6 C512.2 817.6 510.8 816.5 509.5 815.4 C508.2 814.3 506.8 813.3 505.5 812.2 C504.2 811.1 502.9 810.0 501.5 808.9 C500.2 807.8 498.9 806.7 497.6 805.6 C496.2 804.5 494.9 803.4 493.6 802.4 C492.2 801.3 490.9 800.2 489.6 799.1 C488.3 798.1 486.9 797.0 485.6 796.0 C484.3 794.9 482.9 793.9 481.6 792.9 C480.3 791.9 479.0 790.9 477.6 789.9 C476.3 788.9 475.0 787.9 473.6 787.0 C472.3 786.1 471.0 785.2 469.7 784.3 C468.3 783.4 467.0 782.6 465.7 781.8 C464.4 780.9 462.7 779.8 461.7 779.4 C460.7 779.0 460.0 779.4 459.7 779.4Z" fill="#dcdcdc"/>
<path d="M461.6 733.0 C463.2 735.5 468.9 744.3 471.2 747.7 C473.5 751.1 473.8 751.7 475.1 753.5 C476.5 755.3 477.8 757.0 479.1 758.6 C480.4 760.2 481.7 761.7 483.1 763.1 C484.4 764.6 485.7 765.9 487.0 767.3 C488.3 768.6 489.6 769.8 490.9 771.0 C492.3 772.3 493.6 773.4 494.9 774.6 C496.2 775.7 497.5 776.8 498.9 777.9 C500.2 779.0 501.5 780.0 502.8 781.0 C504.1 782.1 505.4 783.1 506.8 784.1 C508.1 785.1 509.4 786.1 510.7 787.0 C512.0 788.0 513.3 789.0 514.6 789.9 C516.0 790.8 517.3 791.8 518.6 792.7 C519.9 793.6 521.2 794.5 522.5 795.3 C523.9 796.2 525.2 797.0 526.5 797.8 C527.8 798.6 529.1 799.4 530.5 800.1 C531.8 800.9 533.1 801.6 534.4 802.2 C535.7 802.8 537.0 803.4 538.4 803.9 C539.7 804.5 541.0 804.9 542.3 805.3 C543.6 805.6 544.9 805.9 546.2 806.1 C547.6 806.3 549.5 806.2 550.2 806.3" fill="none" stroke="#789cf2" stroke-width="1.25"/>
<path d="M461.7 779.4 C462.4 779.8 464.4 780.9 465.7 781.8 C467.0 782.6 468.3 783.4 469.7 784.3 C471.0 785.2 472.3 786.1 473.6 787.0 C475.0 787.9 476.3 788.9 477.6 789.9 C479.0 790.9 480.3 791.9 481.6 792.9 C482.9 793.9 484.3 794.9 485.6 796.0 C486.9 797.0 488.3 798.1 489.6 799.1 C490.9 800.2 492.2 801.3 493.6 802.4 C494.9 803.4 496.2 804.5 497.6 805.6 C498.9 806.7 500.2 807.8 501.5 808.9 C502.9 810.0 504.2 811.1 505.5 812.2 C506.8 813.3 508.2 814.3 509.5 815.4 C510.8 816.5 512.2 817.6 513.5 818.6 C514.8 819.7 516.1 820.7 517.5 821.7 C518.8 822.7 520.1 823.7 521.5 824.7 C522.8 825.7 524.1 826.7 525.4 827.6 C526.8 828.6 528.1 829.5 529.4 830.4 C530.7 831.2 531.3 831.6 533.4 833.0 C535.5 834.3 539.2 837.0 542.0 838.5 C544.8 840.0 548.8 841.4 550.2 842.0" fill="none" stroke="#789cf2" stroke-width="1.25"/>
</g>
<line x1="166" y1="755.8" x2="254.8" y2="755.8" stroke="#ee3c52" stroke-width="1.5" stroke-dasharray="2 1.94"/>
<line x1="166" y1="848.5" x2="254.8" y2="848.5" stroke="#ee3c52" stroke-width="1.5" stroke-dasharray="2 1.94"/>
<line x1="248.0" y1="753.1" x2="248.0" y2="830.2" stroke="#ee3c52" stroke-width="1.35" stroke-dasharray="2 1.94"/>
<line x1="248.0" y1="839.9" x2="248.0" y2="917" stroke="#ee3c52" stroke-width="1.35" stroke-dasharray="2 1.94"/>
<line x1="264.4" y1="755.8" x2="353.5" y2="755.8" stroke="#ee3c52" stroke-width="1.5" stroke-dasharray="2 1.94"/>
<line x1="264.4" y1="848.5" x2="353.5" y2="848.5" stroke="#ee3c52" stroke-width="1.5" stroke-dasharray="2 1.94"/>
<line x1="288.0" y1="753.1" x2="288.0" y2="830.2" stroke="#ee3c52" stroke-width="1.35" stroke-dasharray="2 1.94"/>
<line x1="288.0" y1="839.9" x2="288.0" y2="917" stroke="#ee3c52" stroke-width="1.35" stroke-dasharray="2 1.94"/>
<line x1="363.3" y1="755.8" x2="452" y2="755.8" stroke="#ee3c52" stroke-width="1.5" stroke-dasharray="2 1.94"/>
<line x1="363.3" y1="848.5" x2="452" y2="848.5" stroke="#ee3c52" stroke-width="1.5" stroke-dasharray="2 1.94"/>
<line x1="363.3" y1="753.1" x2="363.3" y2="830.2" stroke="#ee3c52" stroke-width="1.35" stroke-dasharray="2 1.94"/>
<line x1="363.3" y1="839.9" x2="363.3" y2="917" stroke="#ee3c52" stroke-width="1.35" stroke-dasharray="2 1.94"/>
<line x1="461.7" y1="755.8" x2="550.6" y2="755.8" stroke="#ee3c52" stroke-width="1.5" stroke-dasharray="2 1.94"/>
<line x1="461.7" y1="848.5" x2="550.6" y2="848.5" stroke="#ee3c52" stroke-width="1.5" stroke-dasharray="2 1.94"/>
<line x1="461.7" y1="753.1" x2="461.7" y2="830.2" stroke="#ee3c52" stroke-width="1.35" stroke-dasharray="2 1.94"/>
<line x1="461.7" y1="839.9" x2="461.7" y2="917" stroke="#ee3c52" stroke-width="1.35" stroke-dasharray="2 1.94"/>
<line x1="566.1" y1="755.8" x2="642.8" y2="755.8" stroke="#ee3c52" stroke-width="1.5" stroke-dasharray="2 1.94"/>
<g clip-path="url(#c1)">
<path d="M170.0 838.0 C170.7 837.2 172.6 835.2 174.1 833.4 C175.6 831.6 177.5 829.1 179.2 827.2 C180.9 825.3 183.2 823.7 184.4 822.1 C185.6 820.5 185.6 820.0 186.6 817.8 C187.6 815.6 189.3 811.7 190.6 808.9 C191.9 806.0 193.3 803.2 194.6 800.5 C195.9 797.9 197.3 795.3 198.6 792.8 C200.0 790.3 201.3 788.0 202.6 785.8 C204.0 783.5 205.3 781.4 206.6 779.4 C208.0 777.4 209.3 775.5 210.6 773.8 C212.0 772.0 213.3 770.4 214.6 768.9 C216.0 767.4 217.3 766.0 218.7 764.7 C220.0 763.5 221.3 762.3 222.7 761.3 C224.0 760.3 225.3 759.4 226.7 758.6 C228.0 757.9 229.3 757.2 230.7 756.7 C232.0 756.2 233.3 755.8 234.7 755.5 C236.0 755.2 237.3 755.0 238.7 754.9 C240.0 754.8 241.3 754.8 242.7 755.0 C244.0 755.1 245.4 755.3 246.7 755.6 C248.0 755.9 249.4 756.3 250.7 756.8 C252.0 757.2 254.0 758.1 254.7 758.4" fill="none" stroke="#111" stroke-width="1.35" stroke-linejoin="round"/>
<path d="M264.5 788.2 C265.8 785.9 269.5 778.9 272.1 774.2 C274.6 769.5 277.8 763.0 279.6 760.2 C281.4 757.5 281.4 758.4 282.6 757.7 C283.8 757.0 285.2 756.5 286.5 756.1 C287.8 755.7 289.2 755.3 290.5 755.1 C291.8 754.9 293.1 754.8 294.4 754.8 C295.7 754.8 297.0 754.9 298.3 755.1 C299.6 755.3 301.0 755.6 302.3 756.0 C303.6 756.4 304.9 756.9 306.2 757.5 C307.5 758.1 308.8 758.8 310.1 759.6 C311.4 760.4 312.8 761.3 314.1 762.3 C315.4 763.3 316.7 764.4 318.0 765.6 C319.3 766.8 320.6 768.1 321.9 769.5 C323.2 770.9 324.6 772.4 325.9 773.9 C327.2 775.5 328.5 777.2 329.8 778.9 C331.1 780.7 332.4 782.6 333.7 784.5 C335.0 786.5 336.4 788.5 337.7 790.6 C339.0 792.8 340.3 795.0 341.6 797.3 C342.9 799.6 344.2 802.0 345.5 804.5 C346.8 807.0 348.2 809.6 349.5 812.3 C350.8 815.0 352.7 819.2 353.4 820.6" fill="none" stroke="#111" stroke-width="1.35" stroke-linejoin="round"/>
<path d="M363.4 755.5 C364.1 755.7 366.1 756.1 367.4 756.4 C368.7 756.7 370.1 757.1 371.4 757.5 C372.8 757.9 374.1 758.3 375.4 758.7 C376.8 759.2 378.1 759.6 379.4 760.1 C380.8 760.6 382.1 761.2 383.5 761.8 C384.8 762.3 386.1 762.9 387.5 763.5 C388.8 764.2 390.2 764.8 391.5 765.5 C392.8 766.2 394.2 766.9 395.5 767.6 C396.8 768.4 398.2 769.2 399.5 770.0 C400.9 770.8 402.2 771.6 403.5 772.4 C404.9 773.3 406.2 774.2 407.6 775.1 C408.9 776.0 410.2 776.9 411.6 777.9 C412.9 778.9 414.2 779.9 415.6 780.9 C416.9 781.9 418.3 783.0 419.6 784.0 C420.9 785.1 422.3 786.2 423.6 787.4 C424.9 788.5 426.3 789.6 427.6 790.8 C429.0 792.0 430.3 793.2 431.6 794.5 C433.0 795.7 434.3 797.0 435.6 798.2 C437.0 799.5 438.3 800.9 439.7 802.2 C441.0 803.5 442.3 804.9 443.7 806.3 C445.0 807.7 446.4 809.1 447.7 810.5 C449.0 812.0 451.0 814.2 451.7 814.9" fill="none" stroke="#111" stroke-width="1.35" stroke-linejoin="round"/>
<path d="M461.7 756.1 C462.4 756.8 464.4 758.9 465.7 760.3 C467.1 761.7 468.4 763.1 469.8 764.5 C471.1 765.9 472.4 767.3 473.8 768.6 C475.1 770.0 476.5 771.3 477.8 772.6 C479.1 774.0 480.5 775.3 481.8 776.6 C483.2 777.9 484.5 779.2 485.8 780.4 C487.2 781.7 488.5 783.0 489.9 784.2 C491.2 785.4 492.5 786.7 493.9 787.9 C495.2 789.1 496.6 790.3 497.9 791.4 C499.2 792.6 500.6 793.8 501.9 794.9 C503.3 796.0 504.6 797.2 505.9 798.3 C507.3 799.4 508.6 800.4 510.0 801.5 C511.3 802.6 512.7 803.6 514.0 804.6 C515.3 805.7 516.7 806.6 518.0 807.6 C519.4 808.6 520.7 809.6 522.0 810.5 C523.4 811.4 524.7 812.4 526.1 813.3 C527.4 814.2 528.7 815.0 530.1 815.9 C531.4 816.7 532.8 817.5 534.1 818.4 C535.5 819.2 536.8 819.9 538.1 820.7 C539.5 821.4 540.8 822.2 542.1 822.9 C543.5 823.6 544.8 824.3 546.2 824.9 C547.5 825.6 549.5 826.5 550.2 826.8" fill="none" stroke="#111" stroke-width="1.35" stroke-linejoin="round"/>
</g>
<path d="M166.1 910.5 C166.8 910.4 169.0 910.2 170.5 909.8 C172.0 909.4 173.5 909.1 174.9 908.3 C176.3 907.5 177.6 906.3 179.2 905.0 C180.8 903.7 183.1 902.2 184.4 900.7 C185.7 899.2 186.1 898.0 187.2 896.2 C188.3 894.4 189.8 892.0 191.2 889.9 C192.5 887.9 193.8 885.8 195.1 883.8 C196.5 881.8 197.8 879.8 199.1 877.9 C200.4 875.9 201.7 874.1 203.1 872.3 C204.4 870.5 205.7 868.7 207.0 867.1 C208.3 865.5 209.7 863.9 211.0 862.5 C212.3 861.0 213.6 859.6 214.9 858.4 C216.3 857.1 217.6 856.0 218.9 854.9 C220.2 853.9 221.6 852.9 222.9 852.1 C224.2 851.3 225.5 850.5 226.8 849.9 C228.2 849.3 229.5 848.8 230.8 848.4 C232.1 848.0 233.5 847.7 234.8 847.5 C236.1 847.3 237.4 847.2 238.7 847.2 C240.1 847.2 241.4 847.3 242.7 847.5 C244.0 847.6 245.3 847.9 246.7 848.2 C248.0 848.4 249.3 848.8 250.6 849.2 C252.0 849.6 253.9 850.3 254.6 850.5" fill="none" stroke="#1c1c1c" stroke-width="1.25" stroke-linejoin="round"/>
<path d="M264.6 875.4 C265.9 873.4 269.6 867.5 272.1 863.6 C274.6 859.6 277.9 854.0 279.6 851.7 C281.3 849.4 281.3 850.5 282.4 850.0 C283.5 849.5 285.0 848.9 286.3 848.6 C287.7 848.2 289.0 847.9 290.3 847.7 C291.6 847.5 292.9 847.4 294.2 847.4 C295.5 847.4 296.8 847.5 298.2 847.7 C299.5 847.9 300.8 848.2 302.1 848.5 C303.4 848.8 304.7 849.3 306.0 849.8 C307.3 850.3 308.7 850.9 310.0 851.6 C311.3 852.2 312.6 853.0 313.9 853.8 C315.2 854.6 316.5 855.6 317.9 856.5 C319.2 857.5 320.5 858.6 321.8 859.7 C323.1 860.8 324.4 862.0 325.7 863.3 C327.0 864.5 328.4 865.9 329.7 867.3 C331.0 868.7 332.3 870.2 333.6 871.7 C334.9 873.3 336.2 874.9 337.5 876.6 C338.9 878.2 340.2 880.0 341.5 881.8 C342.8 883.7 344.1 885.5 345.4 887.5 C346.7 889.5 348.0 891.5 349.4 893.6 C350.7 895.7 352.6 899.1 353.3 900.1" fill="none" stroke="#1c1c1c" stroke-width="1.25" stroke-linejoin="round"/>
<path d="M363.4 848.5 C364.1 848.7 366.1 849.0 367.4 849.3 C368.7 849.5 370.1 849.9 371.4 850.2 C372.8 850.5 374.1 850.9 375.4 851.2 C376.8 851.6 378.1 852.0 379.4 852.5 C380.8 852.9 382.1 853.3 383.5 853.8 C384.8 854.3 386.1 854.8 387.5 855.3 C388.8 855.9 390.2 856.4 391.5 857.0 C392.8 857.6 394.2 858.2 395.5 858.8 C396.8 859.4 398.2 860.0 399.5 860.7 C400.9 861.4 402.2 862.0 403.5 862.8 C404.9 863.5 406.2 864.2 407.6 864.9 C408.9 865.7 410.2 866.4 411.6 867.2 C412.9 868.0 414.2 868.8 415.6 869.6 C416.9 870.4 418.3 871.3 419.6 872.1 C420.9 873.0 422.3 873.9 423.6 874.7 C424.9 875.6 426.3 876.5 427.6 877.5 C429.0 878.4 430.3 879.3 431.6 880.3 C433.0 881.2 434.3 882.2 435.6 883.2 C437.0 884.2 438.3 885.2 439.7 886.2 C441.0 887.2 442.3 888.2 443.7 889.3 C445.0 890.3 446.4 891.4 447.7 892.4 C449.0 893.5 451.0 895.1 451.7 895.6" fill="none" stroke="#1c1c1c" stroke-width="1.25" stroke-linejoin="round"/>
<path d="M461.7 848.5 C462.4 849.2 464.4 851.0 465.7 852.3 C467.1 853.5 468.4 854.7 469.8 855.9 C471.1 857.1 472.4 858.2 473.8 859.4 C475.1 860.5 476.5 861.6 477.8 862.7 C479.1 863.8 480.5 864.9 481.8 866.0 C483.2 867.0 484.5 868.1 485.8 869.1 C487.2 870.1 488.5 871.1 489.9 872.1 C491.2 873.1 492.5 874.1 493.9 875.0 C495.2 876.0 496.6 876.9 497.9 877.8 C499.2 878.7 500.6 879.6 501.9 880.5 C503.3 881.3 504.6 882.2 505.9 883.0 C507.3 883.8 508.6 884.7 510.0 885.5 C511.3 886.2 512.7 887.0 514.0 887.8 C515.3 888.6 516.7 889.3 518.0 890.0 C519.4 890.8 520.7 891.5 522.0 892.2 C523.4 892.9 524.7 893.5 526.1 894.2 C527.4 894.9 528.7 895.5 530.1 896.1 C531.4 896.7 532.8 897.4 534.1 898.0 C535.5 898.5 536.8 899.1 538.1 899.7 C539.5 900.2 540.8 900.8 542.1 901.3 C543.5 901.9 544.8 902.4 546.2 902.9 C547.5 903.4 549.5 904.1 550.2 904.3" fill="none" stroke="#1c1c1c" stroke-width="1.25" stroke-linejoin="round"/>
<path d="M571.2 829.7 L604.5 790.5 L641.3 751.3" fill="none" stroke="#1a1a1a" stroke-width="1.4"/>
<rect x="569.45" y="827.95" width="3.5" height="3.5" fill="#fff" stroke="#000" stroke-width="1.1"/>
<rect x="602.75" y="788.75" width="3.5" height="3.5" fill="none" stroke="#000" stroke-width="1.1"/>
<rect x="639.55" y="749.55" width="3.5" height="3.5" fill="#fff" stroke="#000" stroke-width="1.1"/>
<rect x="161.3" y="747.5" width="492.5" height="173.0" fill="none" stroke="#7f7f7f" stroke-width="1.4"/>
<line x1="161.3" y1="834" x2="653.8" y2="834" stroke="#7f7f7f" stroke-width="1.4"/>
<line x1="259.7" y1="747.5" x2="259.7" y2="920.5" stroke="#7f7f7f" stroke-width="1.4"/>
<line x1="358.2" y1="747.5" x2="358.2" y2="920.5" stroke="#7f7f7f" stroke-width="1.4"/>
<line x1="456.6" y1="747.5" x2="456.6" y2="920.5" stroke="#7f7f7f" stroke-width="1.4"/>
<line x1="555.3" y1="747.5" x2="555.3" y2="920.5" stroke="#7f7f7f" stroke-width="1.4"/>
<line x1="155.3" y1="828.4" x2="161.3" y2="828.4" stroke="#7f7f7f" stroke-width="1.4"/>
<text x="152.2" y="832.1" font-size="11" fill="#111" stroke="#111" stroke-width="0.2" text-anchor="end" textLength="24.4" lengthAdjust="spacingAndGlyphs">1600</text>
<line x1="158.3" y1="819.34" x2="161.3" y2="819.34" stroke="#7f7f7f" stroke-width="1.4"/>
<line x1="155.3" y1="810.27" x2="161.3" y2="810.27" stroke="#7f7f7f" stroke-width="1.4"/>
<text x="152.2" y="813.98" font-size="11" fill="#111" stroke="#111" stroke-width="0.2" text-anchor="end" textLength="24.4" lengthAdjust="spacingAndGlyphs">1800</text>
<line x1="158.3" y1="801.21" x2="161.3" y2="801.21" stroke="#7f7f7f" stroke-width="1.4"/>
<line x1="155.3" y1="792.15" x2="161.3" y2="792.15" stroke="#7f7f7f" stroke-width="1.4"/>
<text x="152.2" y="795.85" font-size="11" fill="#111" stroke="#111" stroke-width="0.2" text-anchor="end" textLength="24.4" lengthAdjust="spacingAndGlyphs">2000</text>
<line x1="158.3" y1="783.09" x2="161.3" y2="783.09" stroke="#7f7f7f" stroke-width="1.4"/>
<line x1="155.3" y1="774.02" x2="161.3" y2="774.02" stroke="#7f7f7f" stroke-width="1.4"/>
<text x="152.2" y="777.73" font-size="11" fill="#111" stroke="#111" stroke-width="0.2" text-anchor="end" textLength="24.4" lengthAdjust="spacingAndGlyphs">2200</text>
<line x1="158.3" y1="764.96" x2="161.3" y2="764.96" stroke="#7f7f7f" stroke-width="1.4"/>
<line x1="155.3" y1="755.9" x2="161.3" y2="755.9" stroke="#7f7f7f" stroke-width="1.4"/>
<text x="152.2" y="759.6" font-size="11" fill="#111" stroke="#111" stroke-width="0.2" text-anchor="end" textLength="24.4" lengthAdjust="spacingAndGlyphs">2400</text>
<line x1="155.3" y1="910.4" x2="161.3" y2="910.4" stroke="#7f7f7f" stroke-width="1.4"/>
<text x="152.2" y="914.1" font-size="11" fill="#111" stroke="#111" stroke-width="0.2" text-anchor="end" textLength="6.2" lengthAdjust="spacingAndGlyphs">0</text>
<line x1="155.3" y1="893.73" x2="161.3" y2="893.73" stroke="#7f7f7f" stroke-width="1.4"/>
<text x="152.2" y="897.43" font-size="11" fill="#111" stroke="#111" stroke-width="0.2" text-anchor="end" textLength="21.3" lengthAdjust="spacingAndGlyphs">0.25</text>
<line x1="155.3" y1="877.05" x2="161.3" y2="877.05" stroke="#7f7f7f" stroke-width="1.4"/>
<text x="152.2" y="880.75" font-size="11" fill="#111" stroke="#111" stroke-width="0.2" text-anchor="end" textLength="15.3" lengthAdjust="spacingAndGlyphs">0.5</text>
<line x1="155.3" y1="860.38" x2="161.3" y2="860.38" stroke="#7f7f7f" stroke-width="1.4"/>
<text x="152.2" y="864.08" font-size="11" fill="#111" stroke="#111" stroke-width="0.2" text-anchor="end" textLength="21.3" lengthAdjust="spacingAndGlyphs">0.75</text>
<line x1="155.3" y1="843.7" x2="161.3" y2="843.7" stroke="#7f7f7f" stroke-width="1.4"/>
<text x="152.2" y="847.4" font-size="11" fill="#111" stroke="#111" stroke-width="0.2" text-anchor="end" textLength="5" lengthAdjust="spacingAndGlyphs">1</text>
<line x1="166.1" y1="920.5" x2="166.1" y2="926.1" stroke="#7f7f7f" stroke-width="1.4"/>
<text x="169.3" y="928.6" font-size="10.6" fill="#111" stroke="#111" stroke-width="0.2" text-anchor="end" textLength="5.8" lengthAdjust="spacingAndGlyphs" transform="rotate(-90 169.3 928.6)">0</text>
<line x1="176.4" y1="920.5" x2="176.4" y2="923.5" stroke="#7f7f7f" stroke-width="1.4"/>
<line x1="186.7" y1="920.5" x2="186.7" y2="926.1" stroke="#7f7f7f" stroke-width="1.4"/>
<text x="189.9" y="928.6" font-size="10.6" fill="#111" stroke="#111" stroke-width="0.2" text-anchor="end" textLength="14.3" lengthAdjust="spacingAndGlyphs" transform="rotate(-90 189.9 928.6)">0.2</text>
<line x1="197.2" y1="920.5" x2="197.2" y2="923.5" stroke="#7f7f7f" stroke-width="1.4"/>
<line x1="207.7" y1="920.5" x2="207.7" y2="926.1" stroke="#7f7f7f" stroke-width="1.4"/>
<text x="210.9" y="928.6" font-size="10.6" fill="#111" stroke="#111" stroke-width="0.2" text-anchor="end" textLength="14.3" lengthAdjust="spacingAndGlyphs" transform="rotate(-90 210.9 928.6)">0.4</text>
<line x1="218.4" y1="920.5" x2="218.4" y2="923.5" stroke="#7f7f7f" stroke-width="1.4"/>
<line x1="229.1" y1="920.5" x2="229.1" y2="926.1" stroke="#7f7f7f" stroke-width="1.4"/>
<text x="232.3" y="928.6" font-size="10.6" fill="#111" stroke="#111" stroke-width="0.2" text-anchor="end" textLength="14.3" lengthAdjust="spacingAndGlyphs" transform="rotate(-90 232.3 928.6)">0.6</text>
<line x1="239.4" y1="920.5" x2="239.4" y2="923.5" stroke="#7f7f7f" stroke-width="1.4"/>
<line x1="249.8" y1="920.5" x2="249.8" y2="926.1" stroke="#7f7f7f" stroke-width="1.4"/>
<text x="253.0" y="928.6" font-size="10.6" fill="#111" stroke="#111" stroke-width="0.2" text-anchor="end" textLength="14.3" lengthAdjust="spacingAndGlyphs" transform="rotate(-90 253.0 928.6)">0.8</text>
<line x1="264.4" y1="920.5" x2="264.4" y2="926.1" stroke="#7f7f7f" stroke-width="1.4"/>
<text x="267.6" y="928.6" font-size="10.6" fill="#111" stroke="#111" stroke-width="0.2" text-anchor="end" textLength="5.8" lengthAdjust="spacingAndGlyphs" transform="rotate(-90 267.6 928.6)">0</text>
<line x1="275.4" y1="920.5" x2="275.4" y2="923.5" stroke="#7f7f7f" stroke-width="1.4"/>
<line x1="286.5" y1="920.5" x2="286.5" y2="926.1" stroke="#7f7f7f" stroke-width="1.4"/>
<text x="289.7" y="928.6" font-size="10.6" fill="#111" stroke="#111" stroke-width="0.2" text-anchor="end" textLength="14.3" lengthAdjust="spacingAndGlyphs" transform="rotate(-90 289.7 928.6)">0.2</text>
<line x1="297.3" y1="920.5" x2="297.3" y2="923.5" stroke="#7f7f7f" stroke-width="1.4"/>
<line x1="308.1" y1="920.5" x2="308.1" y2="926.1" stroke="#7f7f7f" stroke-width="1.4"/>
<text x="311.3" y="928.6" font-size="10.6" fill="#111" stroke="#111" stroke-width="0.2" text-anchor="end" textLength="14.3" lengthAdjust="spacingAndGlyphs" transform="rotate(-90 311.3 928.6)">0.4</text>
<line x1="318.9" y1="920.5" x2="318.9" y2="923.5" stroke="#7f7f7f" stroke-width="1.4"/>
<line x1="329.6" y1="920.5" x2="329.6" y2="926.1" stroke="#7f7f7f" stroke-width="1.4"/>
<text x="332.8" y="928.6" font-size="10.6" fill="#111" stroke="#111" stroke-width="0.2" text-anchor="end" textLength="14.3" lengthAdjust="spacingAndGlyphs" transform="rotate(-90 332.8 928.6)">0.6</text>
<line x1="340.5" y1="920.5" x2="340.5" y2="923.5" stroke="#7f7f7f" stroke-width="1.4"/>
<line x1="351.4" y1="920.5" x2="351.4" y2="926.1" stroke="#7f7f7f" stroke-width="1.4"/>
<text x="354.6" y="928.6" font-size="10.6" fill="#111" stroke="#111" stroke-width="0.2" text-anchor="end" textLength="14.3" lengthAdjust="spacingAndGlyphs" transform="rotate(-90 354.6 928.6)">0.8</text>
<line x1="363.1" y1="920.5" x2="363.1" y2="926.1" stroke="#7f7f7f" stroke-width="1.4"/>
<text x="366.3" y="928.6" font-size="10.6" fill="#111" stroke="#111" stroke-width="0.2" text-anchor="end" textLength="5.8" lengthAdjust="spacingAndGlyphs" transform="rotate(-90 366.3 928.6)">0</text>
<line x1="372.9" y1="920.5" x2="372.9" y2="923.5" stroke="#7f7f7f" stroke-width="1.4"/>
<line x1="382.6" y1="920.5" x2="382.6" y2="926.1" stroke="#7f7f7f" stroke-width="1.4"/>
<text x="385.8" y="928.6" font-size="10.6" fill="#111" stroke="#111" stroke-width="0.2" text-anchor="end" textLength="14.3" lengthAdjust="spacingAndGlyphs" transform="rotate(-90 385.8 928.6)">0.2</text>
<line x1="392.4" y1="920.5" x2="392.4" y2="923.5" stroke="#7f7f7f" stroke-width="1.4"/>
<line x1="402.1" y1="920.5" x2="402.1" y2="926.1" stroke="#7f7f7f" stroke-width="1.4"/>
<text x="405.3" y="928.6" font-size="10.6" fill="#111" stroke="#111" stroke-width="0.2" text-anchor="end" textLength="14.3" lengthAdjust="spacingAndGlyphs" transform="rotate(-90 405.3 928.6)">0.4</text>
<line x1="411.9" y1="920.5" x2="411.9" y2="923.5" stroke="#7f7f7f" stroke-width="1.4"/>
<line x1="421.6" y1="920.5" x2="421.6" y2="926.1" stroke="#7f7f7f" stroke-width="1.4"/>
<text x="424.8" y="928.6" font-size="10.6" fill="#111" stroke="#111" stroke-width="0.2" text-anchor="end" textLength="14.3" lengthAdjust="spacingAndGlyphs" transform="rotate(-90 424.8 928.6)">0.6</text>
<line x1="431.4" y1="920.5" x2="431.4" y2="923.5" stroke="#7f7f7f" stroke-width="1.4"/>
<line x1="441.1" y1="920.5" x2="441.1" y2="926.1" stroke="#7f7f7f" stroke-width="1.4"/>
<text x="444.3" y="928.6" font-size="10.6" fill="#111" stroke="#111" stroke-width="0.2" text-anchor="end" textLength="14.3" lengthAdjust="spacingAndGlyphs" transform="rotate(-90 444.3 928.6)">0.8</text>
<line x1="450.9" y1="920.5" x2="450.9" y2="923.5" stroke="#7f7f7f" stroke-width="1.4"/>
<line x1="461.6" y1="920.5" x2="461.6" y2="926.1" stroke="#7f7f7f" stroke-width="1.4"/>
<text x="464.8" y="928.6" font-size="10.6" fill="#111" stroke="#111" stroke-width="0.2" text-anchor="end" textLength="5.8" lengthAdjust="spacingAndGlyphs" transform="rotate(-90 464.8 928.6)">0</text>
<line x1="473.0" y1="920.5" x2="473.0" y2="923.5" stroke="#7f7f7f" stroke-width="1.4"/>
<line x1="484.4" y1="920.5" x2="484.4" y2="926.1" stroke="#7f7f7f" stroke-width="1.4"/>
<text x="487.6" y="928.6" font-size="10.6" fill="#111" stroke="#111" stroke-width="0.2" text-anchor="end" textLength="14.3" lengthAdjust="spacingAndGlyphs" transform="rotate(-90 487.6 928.6)">0.1</text>
<line x1="495.1" y1="920.5" x2="495.1" y2="923.5" stroke="#7f7f7f" stroke-width="1.4"/>
<line x1="505.9" y1="920.5" x2="505.9" y2="926.1" stroke="#7f7f7f" stroke-width="1.4"/>
<text x="509.1" y="928.6" font-size="10.6" fill="#111" stroke="#111" stroke-width="0.2" text-anchor="end" textLength="14.3" lengthAdjust="spacingAndGlyphs" transform="rotate(-90 509.1 928.6)">0.2</text>
<line x1="516.8" y1="920.5" x2="516.8" y2="923.5" stroke="#7f7f7f" stroke-width="1.4"/>
<line x1="527.7" y1="920.5" x2="527.7" y2="926.1" stroke="#7f7f7f" stroke-width="1.4"/>
<text x="530.9" y="928.6" font-size="10.6" fill="#111" stroke="#111" stroke-width="0.2" text-anchor="end" textLength="14.3" lengthAdjust="spacingAndGlyphs" transform="rotate(-90 530.9 928.6)">0.3</text>
<line x1="539.0" y1="920.5" x2="539.0" y2="923.5" stroke="#7f7f7f" stroke-width="1.4"/>
<line x1="550.3" y1="920.5" x2="550.3" y2="926.1" stroke="#7f7f7f" stroke-width="1.4"/>
<text x="553.5" y="928.6" font-size="10.6" fill="#111" stroke="#111" stroke-width="0.2" text-anchor="end" textLength="14.3" lengthAdjust="spacingAndGlyphs" transform="rotate(-90 553.5 928.6)">0.4</text>
<line x1="561.0" y1="920.5" x2="561.0" y2="926.1" stroke="#7f7f7f" stroke-width="1.4"/>
<text x="564.2" y="928.6" font-size="10.6" fill="#111" stroke="#111" stroke-width="0.2" text-anchor="end" textLength="5.8" lengthAdjust="spacingAndGlyphs" transform="rotate(-90 564.2 928.6)">0</text>
<line x1="580.7" y1="920.5" x2="580.7" y2="926.1" stroke="#7f7f7f" stroke-width="1.4"/>
<text x="583.9" y="928.6" font-size="10.6" fill="#111" stroke="#111" stroke-width="0.2" text-anchor="end" textLength="19.8" lengthAdjust="spacingAndGlyphs" transform="rotate(-90 583.9 928.6)">0.25</text>
<line x1="599.4" y1="920.5" x2="599.4" y2="926.1" stroke="#7f7f7f" stroke-width="1.4"/>
<text x="602.6" y="928.6" font-size="10.6" fill="#111" stroke="#111" stroke-width="0.2" text-anchor="end" textLength="14.3" lengthAdjust="spacingAndGlyphs" transform="rotate(-90 602.6 928.6)">0.5</text>
<line x1="618.3" y1="920.5" x2="618.3" y2="926.1" stroke="#7f7f7f" stroke-width="1.4"/>
<text x="621.5" y="928.6" font-size="10.6" fill="#111" stroke="#111" stroke-width="0.2" text-anchor="end" textLength="19.8" lengthAdjust="spacingAndGlyphs" transform="rotate(-90 621.5 928.6)">0.75</text>
<line x1="638.1" y1="920.5" x2="638.1" y2="926.1" stroke="#7f7f7f" stroke-width="1.4"/>
<text x="641.3" y="928.6" font-size="10.6" fill="#111" stroke="#111" stroke-width="0.2" text-anchor="end" transform="rotate(-90 641.3 928.6)">1</text>
<text x="209.5" y="956.4" font-size="13" fill="#ee3c52" stroke="#ee3c52" stroke-width="0.1" text-anchor="middle" textLength="60.7" lengthAdjust="spacingAndGlyphs">0.7852077</text>
<text x="308.1" y="956.4" font-size="13" fill="#ee3c52" stroke="#ee3c52" stroke-width="0.1" text-anchor="middle" textLength="61.5" lengthAdjust="spacingAndGlyphs">0.2147923</text>
<text x="406.8" y="956.4" font-size="13" fill="#ee3c52" stroke="#ee3c52" stroke-width="0.1" text-anchor="middle">0</text>
<text x="505.1" y="956.4" font-size="13" fill="#ee3c52" stroke="#ee3c52" stroke-width="0.1" text-anchor="middle">0</text>
<text x="208.2" y="973.4" font-size="11" fill="#111" stroke="#111" stroke-width="0.2" text-anchor="middle" textLength="11.7" lengthAdjust="spacingAndGlyphs">X1</text>
<text x="307.2" y="973.4" font-size="11" fill="#111" stroke="#111" stroke-width="0.2" text-anchor="middle" textLength="11.7" lengthAdjust="spacingAndGlyphs">X2</text>
<text x="405.7" y="973.4" font-size="11" fill="#111" stroke="#111" stroke-width="0.2" text-anchor="middle" textLength="11.7" lengthAdjust="spacingAndGlyphs">X3</text>
<text x="504" y="973.4" font-size="11" fill="#111" stroke="#111" stroke-width="0.2" text-anchor="middle" textLength="11.7" lengthAdjust="spacingAndGlyphs">X4</text>
<text x="598.4" y="974.4" font-size="11" fill="#111" stroke="#111" stroke-width="0.2" text-anchor="middle" textLength="54.8" lengthAdjust="spacingAndGlyphs">Desirability</text>
<text x="53.8" y="776.3" font-size="13" fill="#ee3c52" stroke="#ee3c52" stroke-width="0.1" textLength="54.3" lengthAdjust="spacingAndGlyphs">2405.104</text>
<text x="53.8" y="793.9" font-size="13" fill="#3670f0" stroke="#3670f0" stroke-width="0.1" textLength="61.2" lengthAdjust="spacingAndGlyphs">[2142.289,</text>
<text x="53.8" y="811.3" font-size="13" fill="#3670f0" stroke="#3670f0" stroke-width="0.1" textLength="50.9" lengthAdjust="spacingAndGlyphs">2667.92]</text>
<text x="44.9" y="790.5" font-size="11" fill="#111" stroke="#111" stroke-width="0.2" text-anchor="middle" transform="rotate(-90 44.9 790.5)">Y</text>
<text x="45.8" y="877.5" font-size="11" fill="#111" stroke="#111" stroke-width="0.2" text-anchor="middle" textLength="54" lengthAdjust="spacingAndGlyphs" transform="rotate(-90 45.8 877.5)">Desirability</text>
<text x="50" y="880.6" font-size="13" fill="#111" stroke="#111" stroke-width="0.2" textLength="46.7" lengthAdjust="spacingAndGlyphs">0.92493</text>
</g>
</svg>
</body></html>
